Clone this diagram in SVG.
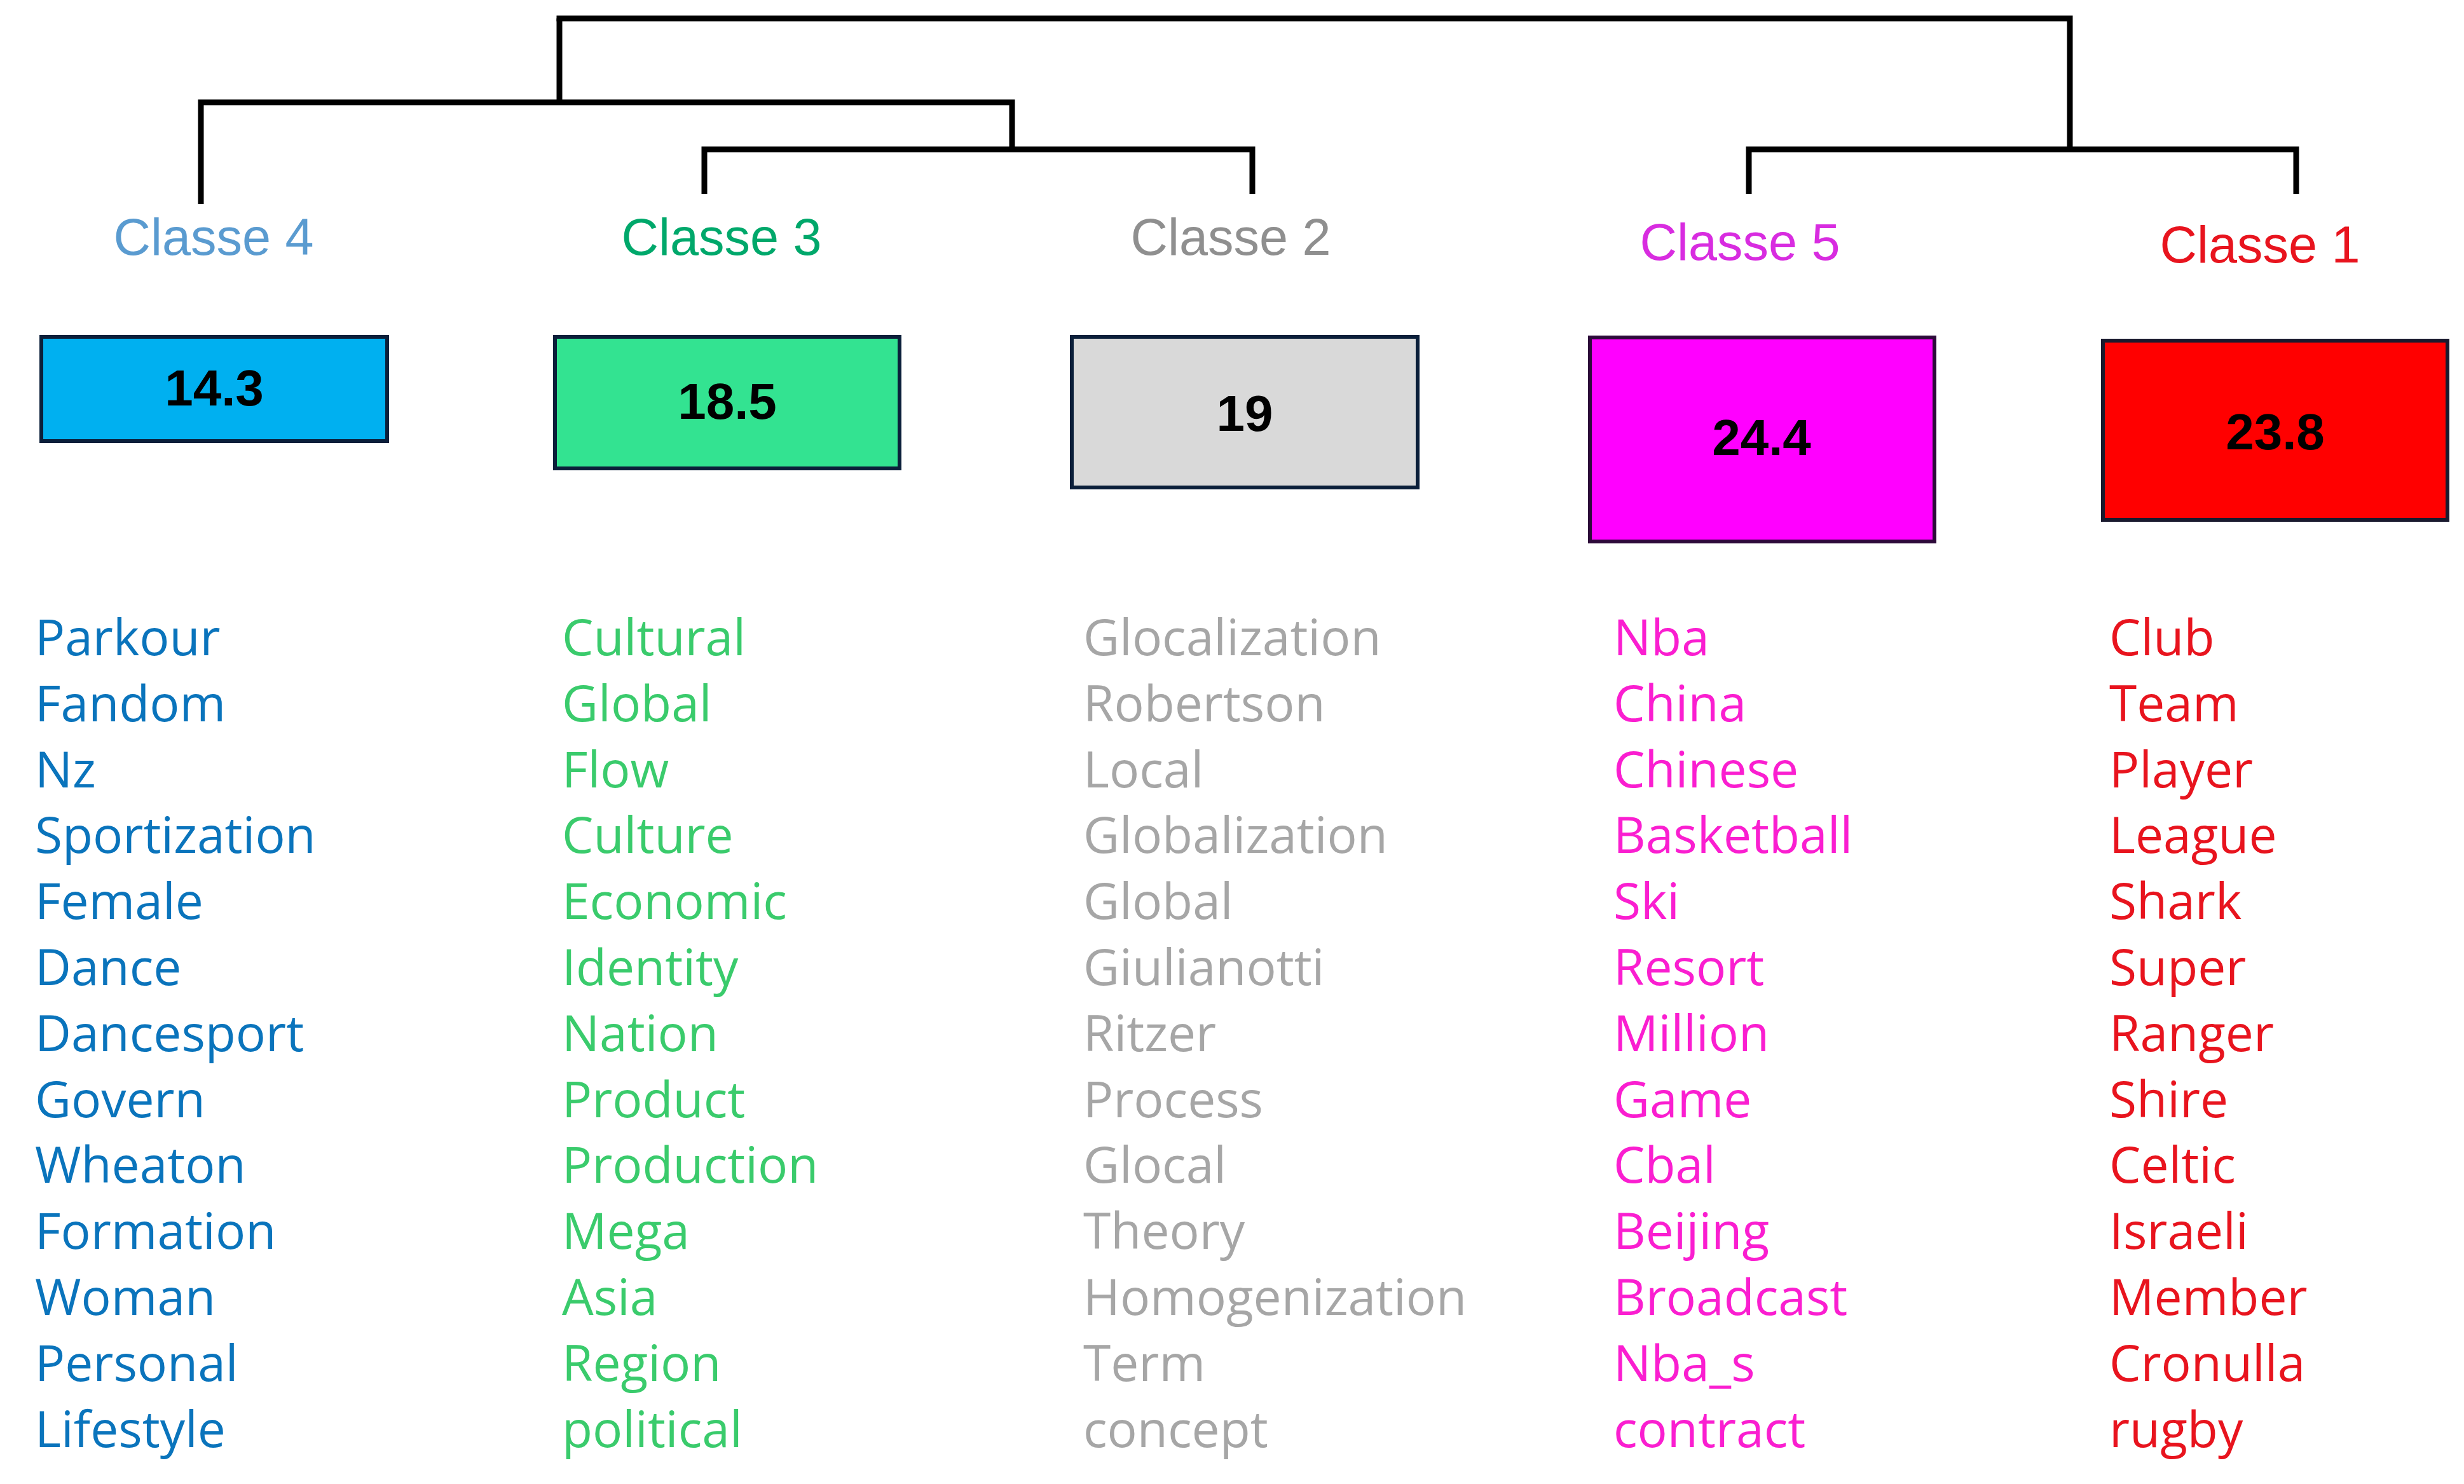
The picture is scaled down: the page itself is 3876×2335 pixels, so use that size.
<svg xmlns="http://www.w3.org/2000/svg" width="3876" height="2335" viewBox="0 0 3876 2335">
<style>
.lbl{font-family:"Liberation Sans",Arial,sans-serif;font-size:81px;text-anchor:middle}
.num{font-family:"Liberation Sans",Arial,sans-serif;font-size:80px;font-weight:bold;text-anchor:middle;fill:#000}
.box{stroke-width:6}
.w{font-family:"Open Sans","DejaVu Sans",sans-serif;font-size:78.5px}
.edge{fill:none;stroke:#000;stroke-width:9;stroke-linejoin:miter;stroke-linecap:butt}
</style>
<rect width="3876" height="2335" fill="#fff"/>
<g id="connectors">
<path class="edge" d="M880,29 V161"/>
<path class="edge" d="M875.5,29 H3256 V235"/>
<path class="edge" d="M316,321 V161 H1592 V235"/>
<path class="edge" d="M1108,305 V235 H1970 V305"/>
<path class="edge" d="M2751,305 V235 H3612 V305"/>
</g>
<g id="classe4">
<text class="lbl" x="336" y="401" fill="#5A9BD0">Classe 4</text>
<rect class="box" x="65" y="530" width="544" height="164" fill="#00B0F0" stroke="#0B1F3A"/>
<text class="num" x="337" y="638">14.3</text>
<g class="w" fill="#0A74BC">
<text x="55" y="1031">Parkour</text>
<text x="55" y="1135">Fandom</text>
<text x="55" y="1239">Nz</text>
<text x="55" y="1342">Sportization</text>
<text x="55" y="1446">Female</text>
<text x="55" y="1550">Dance</text>
<text x="55" y="1654">Dancesport</text>
<text x="55" y="1758">Govern</text>
<text x="55" y="1861">Wheaton</text>
<text x="55" y="1965">Formation</text>
<text x="55" y="2069">Woman</text>
<text x="55" y="2173">Personal</text>
<text x="55" y="2277">Lifestyle</text>
</g>
</g>
<g id="classe3">
<text class="lbl" x="1135" y="401" fill="#00A86B">Classe 3</text>
<rect class="box" x="873" y="530" width="542" height="207" fill="#33E391" stroke="#0B1F3A"/>
<text class="num" x="1144" y="659">18.5</text>
<g class="w" fill="#3ACB6C">
<text x="884" y="1031">Cultural</text>
<text x="884" y="1135">Global</text>
<text x="884" y="1239">Flow</text>
<text x="884" y="1342">Culture</text>
<text x="884" y="1446">Economic</text>
<text x="884" y="1550">Identity</text>
<text x="884" y="1654">Nation</text>
<text x="884" y="1758">Product</text>
<text x="884" y="1861">Production</text>
<text x="884" y="1965">Mega</text>
<text x="884" y="2069">Asia</text>
<text x="884" y="2173">Region</text>
<text x="884" y="2277">political</text>
</g>
</g>
<g id="classe2">
<text class="lbl" x="1936" y="401" fill="#8F8F8F">Classe 2</text>
<rect class="box" x="1686" y="530" width="544" height="237" fill="#D9D9D9" stroke="#0B1F3A"/>
<text class="num" x="1958" y="678">19</text>
<g class="w" fill="#A6A6A6">
<text x="1704" y="1031">Glocalization</text>
<text x="1704" y="1135">Robertson</text>
<text x="1704" y="1239">Local</text>
<text x="1704" y="1342">Globalization</text>
<text x="1704" y="1446">Global</text>
<text x="1704" y="1550">Giulianotti</text>
<text x="1704" y="1654">Ritzer</text>
<text x="1704" y="1758">Process</text>
<text x="1704" y="1861">Glocal</text>
<text x="1704" y="1965">Theory</text>
<text x="1704" y="2069">Homogenization</text>
<text x="1704" y="2173">Term</text>
<text x="1704" y="2277">concept</text>
</g>
</g>
<g id="classe5">
<text class="lbl" x="2737" y="409" fill="#D82CE0">Classe 5</text>
<rect class="box" x="2501" y="531" width="542" height="321" fill="#FF00FF" stroke="#2D0A3A"/>
<text class="num" x="2771" y="716">24.4</text>
<g class="w" fill="#FA1ED0">
<text x="2538" y="1031">Nba</text>
<text x="2538" y="1135">China</text>
<text x="2538" y="1239">Chinese</text>
<text x="2538" y="1342">Basketball</text>
<text x="2538" y="1446">Ski</text>
<text x="2538" y="1550">Resort</text>
<text x="2538" y="1654">Million</text>
<text x="2538" y="1758">Game</text>
<text x="2538" y="1861">Cbal</text>
<text x="2538" y="1965">Beijing</text>
<text x="2538" y="2069">Broadcast</text>
<text x="2538" y="2173">Nba_s</text>
<text x="2538" y="2277">contract</text>
</g>
</g>
<g id="classe1">
<text class="lbl" x="3555" y="413" fill="#E8141E">Classe 1</text>
<rect class="box" x="3308" y="536" width="542" height="282" fill="#FF0000" stroke="#1A1A2E"/>
<text class="num" x="3579" y="707">23.8</text>
<g class="w" fill="#E8141E">
<text x="3318" y="1031">Club</text>
<text x="3318" y="1135">Team</text>
<text x="3318" y="1239">Player</text>
<text x="3318" y="1342">League</text>
<text x="3318" y="1446">Shark</text>
<text x="3318" y="1550">Super</text>
<text x="3318" y="1654">Ranger</text>
<text x="3318" y="1758">Shire</text>
<text x="3318" y="1861">Celtic</text>
<text x="3318" y="1965">Israeli</text>
<text x="3318" y="2069">Member</text>
<text x="3318" y="2173">Cronulla</text>
<text x="3318" y="2277">rugby</text>
</g>
</g>
</svg>
